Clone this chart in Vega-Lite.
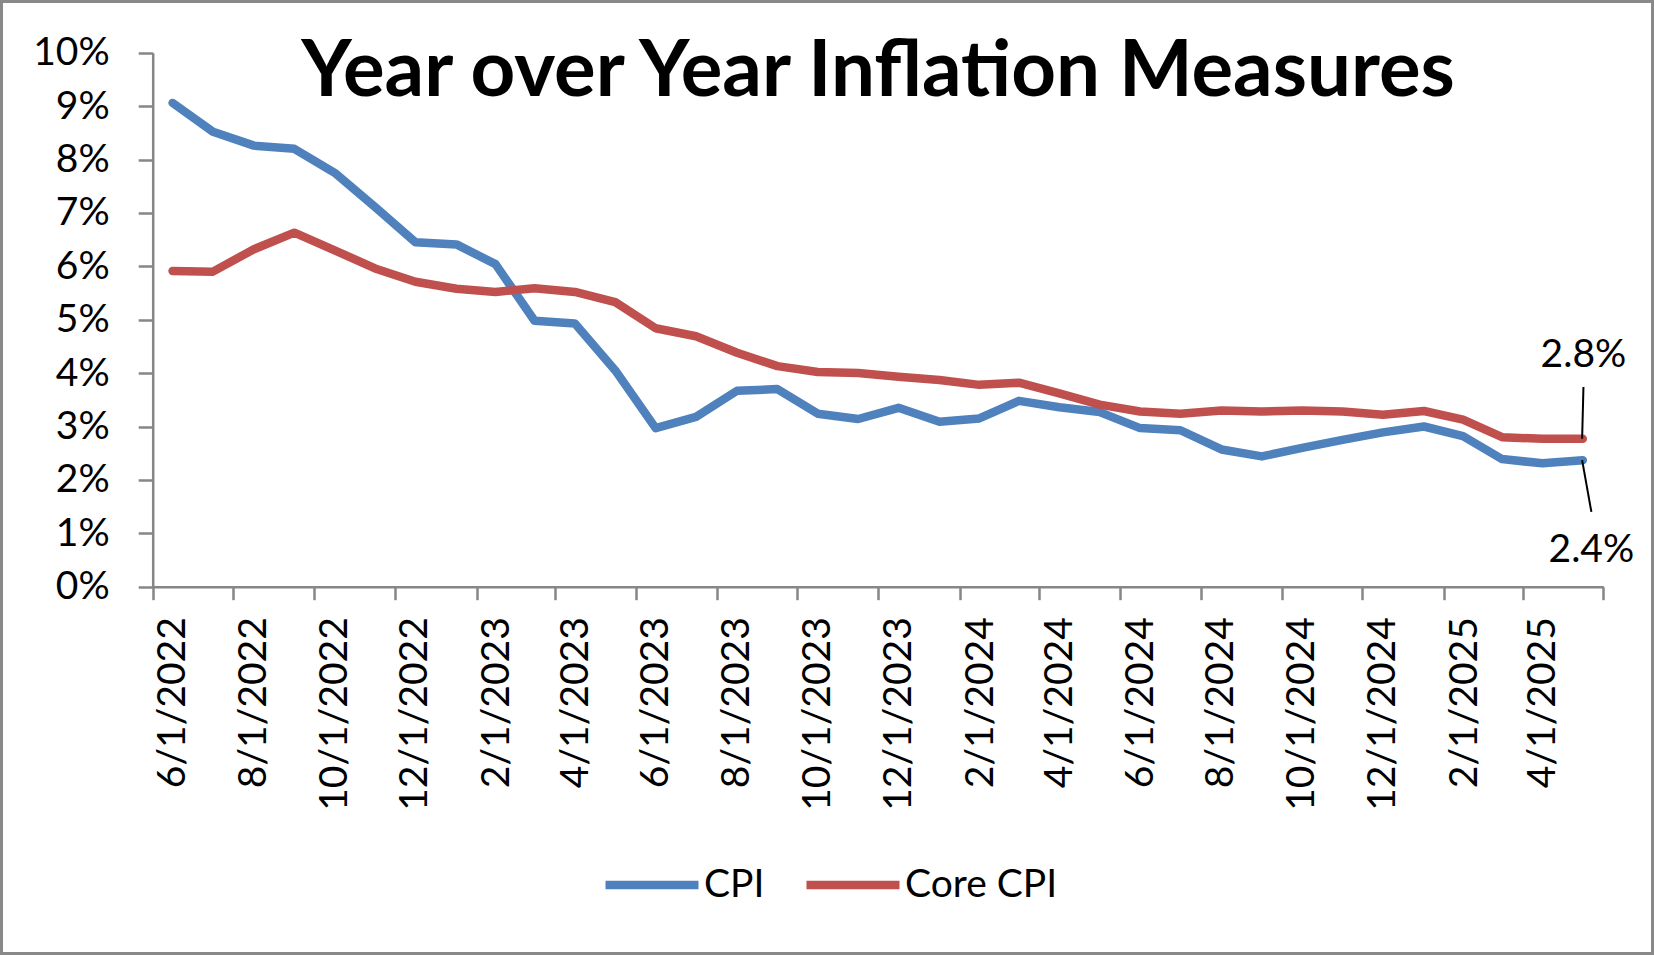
{
  "$schema": "https://vega.github.io/schema/vega-lite/v6.json",
  "width": 1654,
  "height": 955,
  "padding": 0,
  "autosize": {"type": "none"},
  "background": "white",
  "title": {
    "text": "Year over Year Inflation Measures",
    "font": "Lato",
    "fontSize": 78,
    "fontWeight": "bold",
    "color": "black",
    "frame": "group",
    "anchor": "middle",
    "baseline": "alphabetic",
    "offset": 0,
    "dx": 51,
    "dy": 174
  },
  "datasets": {
    "inflation": [
      {"date": "2022-06-01", "series": "CPI", "value": 9.06},
      {"date": "2022-07-01", "series": "CPI", "value": 8.52},
      {"date": "2022-08-01", "series": "CPI", "value": 8.26},
      {"date": "2022-09-01", "series": "CPI", "value": 8.2},
      {"date": "2022-10-01", "series": "CPI", "value": 7.75},
      {"date": "2022-11-01", "series": "CPI", "value": 7.11},
      {"date": "2022-12-01", "series": "CPI", "value": 6.45},
      {"date": "2023-01-01", "series": "CPI", "value": 6.41},
      {"date": "2023-02-01", "series": "CPI", "value": 6.04},
      {"date": "2023-03-01", "series": "CPI", "value": 4.98},
      {"date": "2023-04-01", "series": "CPI", "value": 4.93},
      {"date": "2023-05-01", "series": "CPI", "value": 4.05},
      {"date": "2023-06-01", "series": "CPI", "value": 2.97},
      {"date": "2023-07-01", "series": "CPI", "value": 3.18},
      {"date": "2023-08-01", "series": "CPI", "value": 3.67},
      {"date": "2023-09-01", "series": "CPI", "value": 3.7},
      {"date": "2023-10-01", "series": "CPI", "value": 3.24},
      {"date": "2023-11-01", "series": "CPI", "value": 3.14},
      {"date": "2023-12-01", "series": "CPI", "value": 3.35},
      {"date": "2024-01-01", "series": "CPI", "value": 3.09},
      {"date": "2024-02-01", "series": "CPI", "value": 3.15},
      {"date": "2024-03-01", "series": "CPI", "value": 3.48},
      {"date": "2024-04-01", "series": "CPI", "value": 3.36},
      {"date": "2024-05-01", "series": "CPI", "value": 3.27},
      {"date": "2024-06-01", "series": "CPI", "value": 2.97},
      {"date": "2024-07-01", "series": "CPI", "value": 2.93},
      {"date": "2024-08-01", "series": "CPI", "value": 2.57},
      {"date": "2024-09-01", "series": "CPI", "value": 2.44},
      {"date": "2024-10-01", "series": "CPI", "value": 2.6},
      {"date": "2024-11-01", "series": "CPI", "value": 2.75},
      {"date": "2024-12-01", "series": "CPI", "value": 2.89},
      {"date": "2025-01-01", "series": "CPI", "value": 3.0},
      {"date": "2025-02-01", "series": "CPI", "value": 2.82},
      {"date": "2025-03-01", "series": "CPI", "value": 2.39},
      {"date": "2025-04-01", "series": "CPI", "value": 2.31},
      {"date": "2025-05-01", "series": "CPI", "value": 2.37},
      {"date": "2022-06-01", "series": "Core CPI", "value": 5.91},
      {"date": "2022-07-01", "series": "Core CPI", "value": 5.9},
      {"date": "2022-08-01", "series": "Core CPI", "value": 6.32},
      {"date": "2022-09-01", "series": "Core CPI", "value": 6.63},
      {"date": "2022-10-01", "series": "Core CPI", "value": 6.3},
      {"date": "2022-11-01", "series": "Core CPI", "value": 5.96},
      {"date": "2022-12-01", "series": "Core CPI", "value": 5.71},
      {"date": "2023-01-01", "series": "Core CPI", "value": 5.58},
      {"date": "2023-02-01", "series": "Core CPI", "value": 5.52},
      {"date": "2023-03-01", "series": "Core CPI", "value": 5.59},
      {"date": "2023-04-01", "series": "Core CPI", "value": 5.52},
      {"date": "2023-05-01", "series": "Core CPI", "value": 5.33},
      {"date": "2023-06-01", "series": "Core CPI", "value": 4.84},
      {"date": "2023-07-01", "series": "Core CPI", "value": 4.69},
      {"date": "2023-08-01", "series": "Core CPI", "value": 4.38},
      {"date": "2023-09-01", "series": "Core CPI", "value": 4.13},
      {"date": "2023-10-01", "series": "Core CPI", "value": 4.02},
      {"date": "2023-11-01", "series": "Core CPI", "value": 4.0},
      {"date": "2023-12-01", "series": "Core CPI", "value": 3.93},
      {"date": "2024-01-01", "series": "Core CPI", "value": 3.87},
      {"date": "2024-02-01", "series": "Core CPI", "value": 3.78},
      {"date": "2024-03-01", "series": "Core CPI", "value": 3.82},
      {"date": "2024-04-01", "series": "Core CPI", "value": 3.62},
      {"date": "2024-05-01", "series": "Core CPI", "value": 3.41},
      {"date": "2024-06-01", "series": "Core CPI", "value": 3.28},
      {"date": "2024-07-01", "series": "Core CPI", "value": 3.24},
      {"date": "2024-08-01", "series": "Core CPI", "value": 3.3},
      {"date": "2024-09-01", "series": "Core CPI", "value": 3.28},
      {"date": "2024-10-01", "series": "Core CPI", "value": 3.3},
      {"date": "2024-11-01", "series": "Core CPI", "value": 3.28},
      {"date": "2024-12-01", "series": "Core CPI", "value": 3.22},
      {"date": "2025-01-01", "series": "Core CPI", "value": 3.29},
      {"date": "2025-02-01", "series": "Core CPI", "value": 3.13},
      {"date": "2025-03-01", "series": "Core CPI", "value": 2.8},
      {"date": "2025-04-01", "series": "Core CPI", "value": 2.77},
      {"date": "2025-05-01", "series": "Core CPI", "value": 2.77}
    ],
    "callouts": [
      {"series": "Core CPI", "date": "2025-05-16", "value": 2.77, "tip": "2025-05-17", "end": 3.74, "labelAt": 4.11, "label": "2.8%"},
      {"series": "CPI", "date": "2025-05-16", "value": 2.37, "tip": "2025-05-23", "end": 1.4, "labelAt": 0.46, "label": "2.4%"}
    ]
  },
  "layer": [
    {
      "data": {"name": "inflation"},
      "mark": {"type": "line", "strokeWidth": 8.5, "strokeCap": "round", "strokeJoin": "round"},
      "encoding": {
        "x": {
          "field": "date",
          "timeUnit": "utcyearmonth",
          "type": "temporal",
          "bandPosition": 0.5,
          "scale": {
            "type": "utc",
            "domain": [
              {"year": 2022, "month": 6, "date": 1, "utc": true},
              {"year": 2025, "month": 6, "date": 1, "utc": true}
            ],
            "range": [152.7, 1603.3]
          },
          "axis": {
            "title": null,
            "grid": false,
            "offset": -368.3,
            "values": [
              {"year": 2022, "month": 6, "date": 1, "utc": true},
              {"year": 2022, "month": 8, "date": 1, "utc": true},
              {"year": 2022, "month": 10, "date": 1, "utc": true},
              {"year": 2022, "month": 12, "date": 1, "utc": true},
              {"year": 2023, "month": 2, "date": 1, "utc": true},
              {"year": 2023, "month": 4, "date": 1, "utc": true},
              {"year": 2023, "month": 6, "date": 1, "utc": true},
              {"year": 2023, "month": 8, "date": 1, "utc": true},
              {"year": 2023, "month": 10, "date": 1, "utc": true},
              {"year": 2023, "month": 12, "date": 1, "utc": true},
              {"year": 2024, "month": 2, "date": 1, "utc": true},
              {"year": 2024, "month": 4, "date": 1, "utc": true},
              {"year": 2024, "month": 6, "date": 1, "utc": true},
              {"year": 2024, "month": 8, "date": 1, "utc": true},
              {"year": 2024, "month": 10, "date": 1, "utc": true},
              {"year": 2024, "month": 12, "date": 1, "utc": true},
              {"year": 2025, "month": 2, "date": 1, "utc": true},
              {"year": 2025, "month": 4, "date": 1, "utc": true},
              {"year": 2025, "month": 6, "date": 1, "utc": true}
            ],
            "labelExpr": "utcyear(datum.value) == 2025 && utcmonth(datum.value) == 5 ? '' : utcFormat(datum.value, '%-m/%-d/%Y')",
            "labelAngle": 270,
            "labelAlign": "right",
            "labelBaseline": "middle",
            "labelOffset": 20,
            "labelPadding": 17,
            "labelOverlap": false,
            "labelFlush": false,
            "labelLimit": 0,
            "tickSize": 13
          }
        },
        "y": {
          "field": "value",
          "type": "quantitative",
          "scale": {"domain": [0, 10], "range": [586.7, 52.7], "nice": false},
          "axis": {
            "title": null,
            "grid": false,
            "offset": -152.7,
            "values": [0, 1, 2, 3, 4, 5, 6, 7, 8, 9, 10],
            "labelExpr": "datum.value + '%'",
            "tickSize": 14.5,
            "labelPadding": 29,
            "labelFlush": false,
            "labelOverlap": false
          }
        },
        "color": {
          "field": "series",
          "type": "nominal",
          "scale": {"domain": ["CPI", "Core CPI"], "range": ["#4F81BD", "#C0504D"]},
          "legend": {
            "title": null,
            "orient": "none",
            "legendX": 601,
            "legendY": 834,
            "direction": "horizontal",
            "symbolType": "stroke",
            "symbolSize": 8649,
            "symbolStrokeWidth": 8.5,
            "labelFontSize": 39,
            "labelFont": "Lato",
            "labelColor": "black",
            "labelOffset": 1,
            "columnPadding": 24,
            "padding": 0,
            "labelLimit": 0
          }
        }
      }
    },
    {
      "data": {"name": "callouts"},
      "mark": {"type": "rule", "color": "black", "strokeWidth": 2},
      "encoding": {
        "x": {"field": "date", "type": "temporal"},
        "x2": {"field": "tip"},
        "y": {"field": "value", "type": "quantitative"},
        "y2": {"field": "end"}
      }
    },
    {
      "data": {"name": "callouts"},
      "mark": {"type": "text", "font": "Lato", "fontSize": 39, "color": "black", "align": "center", "baseline": "alphabetic"},
      "encoding": {
        "x": {"field": "tip", "type": "temporal"},
        "y": {"field": "labelAt", "type": "quantitative"},
        "text": {"field": "label"}
      }
    }
  ],
  "config": {
    "font": "Lato",
    "view": {"stroke": "#898989", "strokeWidth": 6},
    "axis": {
      "domainColor": "#868686",
      "tickColor": "#868686",
      "domainWidth": 2.5,
      "tickWidth": 2.5,
      "labelFont": "Lato",
      "labelFontSize": 39,
      "labelColor": "black"
    }
  }
}
